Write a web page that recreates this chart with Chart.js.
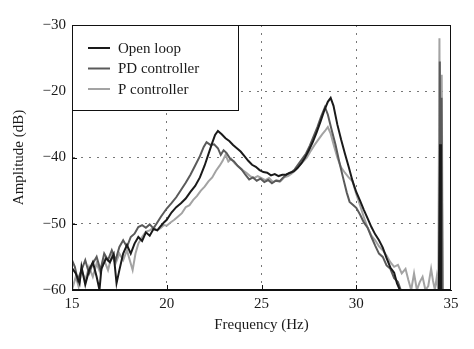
<!DOCTYPE html>
<html>
<head>
<meta charset="utf-8">
<script src="https://cdn.jsdelivr.net/npm/chart.js@4.4.1/dist/chart.umd.min.js"></script>
<style>
  html, body { margin: 0; padding: 0; background: #fff; }
  #wrap { width: 474px; height: 349px; }
</style>
</head>
<body>
<div id="wrap"><canvas id="freqChart"></canvas></div>
<script>
// Series (frequency in Hz, amplitude in dB)
const freqOpen = [15.0,15.2,15.4,15.5,15.7,15.9,16.1,16.3,16.45,16.55,16.8,17.0,17.2,17.35,17.5,17.7,17.9,18.1,18.3,18.5,18.7,18.9,19.1,19.3,19.5,19.7,19.85,20.0,20.25,20.5,20.75,21.0,21.25,21.5,21.75,22.0,22.2,22.4,22.55,22.7,22.9,23.1,23.3,23.5,23.7,23.9,24.1,24.3,24.5,24.7,24.9,25.1,25.3,25.5,25.7,25.9,26.1,26.3,26.5,26.7,26.9,27.1,27.3,27.5,27.7,27.9,28.1,28.3,28.5,28.65,28.8,29.0,29.2,29.4,29.6,29.8,30.0,30.2,30.4,30.6,30.8,31.0,31.2,31.4,31.6,31.8,32.0,32.15,32.3,34.36,34.42,34.47];
const ampOpen = [-56.7,-57.5,-59,-56.5,-59.2,-57,-55.8,-58,-60,-56.8,-55.2,-55.8,-54.6,-59,-57,-54.5,-53.2,-54.5,-53,-52,-52.6,-51.3,-51.8,-50.8,-51,-50.3,-49.8,-49.4,-48.3,-47.5,-46.9,-46.2,-45.2,-44.3,-43.0,-41.2,-39.5,-37.8,-36.6,-36.0,-36.5,-37.1,-37.5,-38.1,-38.6,-39.1,-39.8,-40.5,-41.1,-41.4,-41.9,-42.2,-42.3,-42.7,-42.5,-42.8,-42.6,-42.6,-42.3,-42.1,-41.6,-40.9,-40.0,-38.9,-37.7,-36.3,-34.7,-33.0,-31.6,-31.0,-32.2,-35.0,-37.3,-39.4,-41.4,-43.5,-45.2,-46.5,-47.9,-49.2,-50.5,-51.6,-52.5,-53.6,-55.2,-56.6,-57.4,-59,-60,-60,-38,-60];

const freqPD = [15.0,15.15,15.3,15.5,15.7,15.9,16.1,16.3,16.5,16.7,16.9,17.1,17.3,17.5,17.7,17.9,18.1,18.3,18.5,18.7,18.9,19.1,19.3,19.5,19.7,19.85,20.0,20.25,20.5,20.75,21.0,21.25,21.5,21.75,21.95,22.1,22.3,22.5,22.7,22.85,23.0,23.15,23.35,23.55,23.75,23.95,24.15,24.35,24.55,24.75,24.95,25.15,25.35,25.55,25.75,25.95,26.15,26.35,26.55,26.75,26.95,27.15,27.35,27.55,27.75,27.95,28.15,28.35,28.5,28.7,28.9,29.1,29.3,29.5,29.65,29.85,30.0,30.2,30.4,30.6,30.8,31.0,31.2,31.4,31.6,31.8,32.0,32.2,32.35,34.37,34.41,34.45,34.5,34.55];
const ampPD = [-55.5,-56.5,-58.5,-57,-55.5,-57.5,-56,-55,-57,-54.5,-55.5,-54,-55.5,-53.5,-52.5,-53.5,-52,-51.5,-50.5,-50.2,-50.6,-50.1,-50.7,-49.8,-48.9,-48.3,-47.7,-46.9,-46.0,-44.9,-43.8,-42.6,-41.2,-39.8,-38.4,-37.7,-38.1,-38.0,-38.6,-39.6,-38.9,-39.3,-40.2,-40.6,-41.3,-41.8,-42.6,-43.3,-43.0,-43.5,-43.2,-43.7,-43.4,-43.9,-43.5,-43.6,-43.0,-42.5,-42.3,-41.8,-41.0,-40.2,-39.4,-38.2,-36.8,-35.4,-33.8,-32.4,-33.5,-35.8,-38.0,-40.6,-43.0,-45.3,-46.7,-47.2,-47.6,-48.6,-49.8,-50.6,-52.0,-53.3,-54.5,-55.0,-56.3,-56.8,-58.2,-58.8,-60,-60,-25.5,-60,-31,-60];

const freqP = [15.0,15.2,15.35,15.5,15.7,15.9,16.1,16.3,16.5,16.7,16.9,17.1,17.3,17.5,17.7,17.9,18.05,18.2,18.35,18.5,18.7,18.9,19.1,19.3,19.5,19.7,19.85,20.0,20.2,20.4,20.6,20.8,21.0,21.2,21.4,21.6,21.8,22.0,22.2,22.4,22.6,22.8,22.95,23.1,23.25,23.4,23.6,23.8,24.0,24.2,24.4,24.6,24.8,25.0,25.2,25.4,25.6,25.8,26.0,26.2,26.4,26.6,26.8,27.0,27.2,27.4,27.6,27.8,28.0,28.2,28.35,28.5,28.65,28.8,29.0,29.2,29.4,29.6,29.8,30.0,30.2,30.4,30.6,30.8,31.0,31.2,31.4,31.6,31.8,32.0,32.2,32.4,32.6,32.75,32.9,33.05,33.2,33.35,33.5,33.65,33.8,33.95,34.05,34.15,34.25,34.33,34.39,34.44,34.51,34.57];
const ampP = [-60,-58,-59.5,-57,-58.5,-56.5,-58,-56,-57.5,-55.5,-57,-54.8,-56,-54.5,-55.5,-54,-55.5,-57,-54.5,-53,-52,-51.2,-51,-50.6,-51,-50.6,-50.2,-50.3,-49.8,-49.4,-48.9,-48.4,-47.5,-47.2,-46.4,-45.8,-45.0,-44.4,-43.6,-43.0,-42.0,-41.2,-40.5,-39.6,-40.6,-40.2,-40.9,-41.4,-41.9,-42.3,-42.8,-43.1,-42.8,-43.1,-43.4,-43.1,-43.7,-43.4,-43.6,-43.0,-42.8,-42.4,-41.9,-41.2,-40.6,-40.0,-39.0,-38.1,-37.3,-36.5,-36.0,-35.4,-36.4,-38.0,-40.0,-41.5,-42.3,-43.0,-43.6,-45.5,-47.2,-49.0,-50.6,-51.8,-52.5,-53.4,-54.0,-54.8,-55.8,-56.5,-56.2,-57.5,-56.8,-58.5,-60,-57.5,-60,-58.8,-58,-60,-59.4,-56.8,-58.6,-60,-58,-60,-22,-60,-27.5,-60];

const seriesNames = ['Open loop', 'PD controller', 'P controller'];
const seriesColors = ['#1a1a1a', '#5a5a5a', '#a3a3a3'];

const xTickValues = [15, 20, 25, 30, 35];
const yTickValues = [-60, -50, -40, -30, -20];
const yTickLabels = ['\u221260', '\u221250', '\u221240', '\u221220', '\u221230'];

const serif = '"Liberation Serif", "DejaVu Serif", serif';

function toPoints(xs, ys) {
    return xs.map((x, i) => ({ x: x, y: ys[i] }));
}

// Frame, inward ticks and boxed legend
const framePlugin = {
    id: 'frame',
    afterDatasetsDraw(chart) {
        const c = chart.ctx;
        const a = chart.chartArea;
        const xs = chart.scales.x, ys = chart.scales.y;
        c.save();
        c.strokeStyle = '#111';
        c.lineWidth = 1;
        c.strokeRect(a.left + 0.5, a.top + 0.5, a.right - a.left - 1, a.bottom - a.top - 1);
        c.beginPath();
        xTickValues.slice(1, -1).forEach(v => {
            const px = Math.round(xs.getPixelForValue(v)) + 0.5;
            c.moveTo(px, a.bottom);
            c.lineTo(px, a.bottom - 5);
        });
        yTickValues.slice(1, -1).forEach(v => {
            const py = Math.round(ys.getPixelForValue(v)) + 0.5;
            c.moveTo(a.left, py);
            c.lineTo(a.left + 5, py);
        });
        c.stroke();

        // legend box
        const bx = a.left + 0.5, by = a.top + 0.5, bw = 166, bh = 85;
        c.fillStyle = '#fff';
        c.fillRect(bx, by, bw, bh);
        c.strokeRect(bx, by, bw, bh);
        c.font = '15px ' + serif;
        c.textBaseline = 'middle';
        c.textAlign = 'left';
        chart.data.datasets.forEach((ds, i) => {
            const ry = a.top + 23 + i * 20.5;
            c.strokeStyle = ds.borderColor;
            c.lineWidth = 2;
            c.beginPath();
            c.moveTo(a.left + 16, ry);
            c.lineTo(a.left + 38, ry);
            c.stroke();
            c.fillStyle = '#1a1a1a';
            c.fillText(ds.label, a.left + 46, ry + 1);
        });
        c.restore();
    }
};

const gridColor = ctx => (ctx.tick && (ctx.index === 0 || ctx.index === ctx.chart.scales[ctx.scale.id].ticks.length - 1)) ? 'rgba(0,0,0,0)' : '#777';

const ctx = document.getElementById('freqChart').getContext('2d');
const freqChart = new Chart(ctx, {
    type: 'line',
    data: {
        datasets: [
            { label: seriesNames[0], data: toPoints(freqOpen, ampOpen), borderColor: seriesColors[0], clip: 0 },
            { label: seriesNames[1], data: toPoints(freqPD, ampPD), borderColor: seriesColors[1], clip: 0 },
            { label: seriesNames[2], data: toPoints(freqP, ampP), borderColor: seriesColors[2], clip: 0 }
        ]
    },
    options: {
        responsive: true,
        maintainAspectRatio: false,
        animation: false,
        layout: { padding: { top: 25, right: 23, left: 0, bottom: 0 } },
        elements: {
            line: { borderWidth: 2, tension: 0, fill: false },
            point: { radius: 0 }
        },
        plugins: {
            legend: { display: false },
            tooltip: { enabled: false }
        },
        scales: {
            x: {
                type: 'linear',
                min: 15,
                max: 35,
                afterFit: s => { s.height = 59; },
                afterBuildTicks: s => { s.ticks = xTickValues.map(v => ({ value: v })); },
                ticks: {
                    padding: 5,
                    color: '#1a1a1a',
                    font: { family: serif, size: 15 },
                    callback: v => String(v)
                },
                grid: { color: gridColor, drawTicks: false, lineWidth: 1 },
                border: { display: true, color: '#111', dash: [2, 6] },
                title: {
                    display: true,
                    text: 'Frequency (Hz)',
                    color: '#1a1a1a',
                    font: { family: serif, size: 15 },
                    padding: { top: 0, bottom: 15 }
                }
            },
            y: {
                min: -60,
                max: -20,
                afterFit: s => { s.width = 72; },
                afterBuildTicks: s => { s.ticks = yTickValues.map(v => ({ value: v })); },
                ticks: {
                    padding: 6,
                    color: '#1a1a1a',
                    font: { family: serif, size: 15 },
                    callback: v => yTickLabels[yTickValues.indexOf(v)]
                },
                grid: { color: gridColor, drawTicks: false, lineWidth: 1 },
                border: { display: true, color: '#111', dash: [2, 6] },
                title: {
                    display: true,
                    text: 'Amplitude (dB)',
                    color: '#1a1a1a',
                    font: { family: serif, size: 15 },
                    padding: { top: 10, bottom: 0 }
                }
            }
        }
    },
    plugins: [framePlugin]
});
</script>
</body>
</html>
